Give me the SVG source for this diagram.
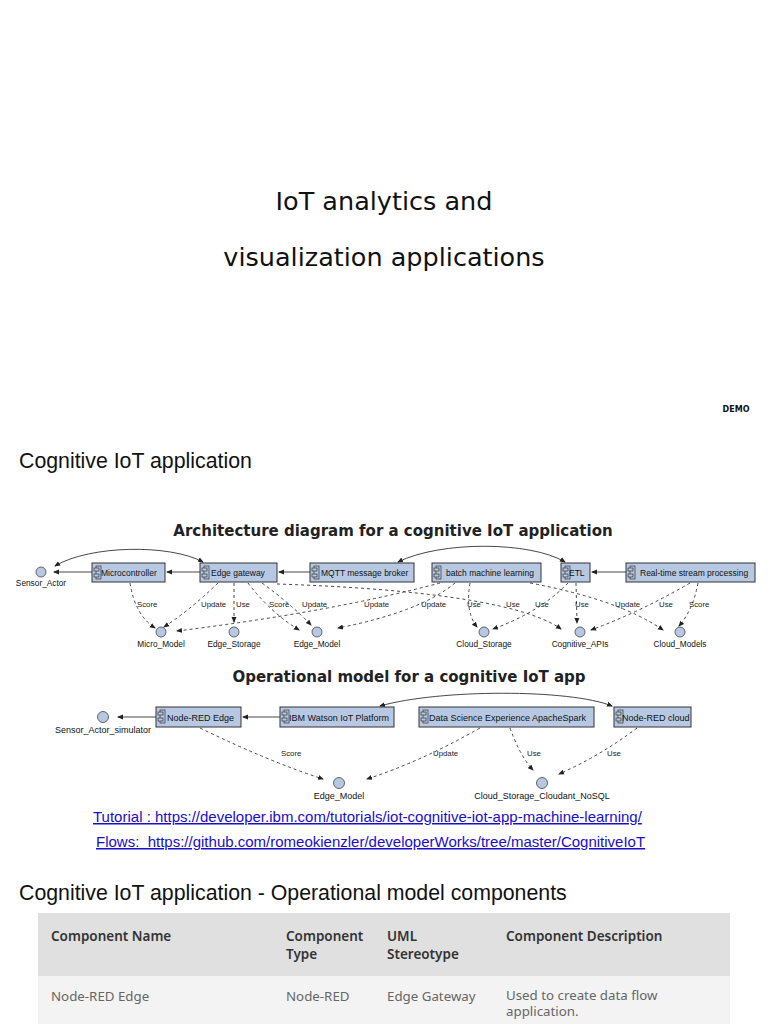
<svg xmlns="http://www.w3.org/2000/svg" width="768" height="1024" viewBox="0 0 768 1024">
<defs>
<marker id="ah" markerUnits="userSpaceOnUse" markerWidth="6" markerHeight="6" refX="5" refY="3" orient="auto-start-reverse"><path d="M0,0.5 L6,3 L0,5.5 z" fill="#222"/></marker>
<g id="icon"><rect x="4" y="3" width="5" height="13" fill="#b7c9e2" stroke="#333" stroke-width="0.7"/><rect x="2" y="5" width="5" height="3" fill="#b7c9e2" stroke="#333" stroke-width="0.7"/><rect x="2" y="11" width="5" height="3" fill="#b7c9e2" stroke="#333" stroke-width="0.7"/></g>
</defs>
<style>
.ttl{font-family:"DejaVu Sans",sans-serif;font-size:25.5px;fill:#111;text-anchor:middle}
.h2{font-family:"Liberation Sans",Arial,sans-serif;font-size:21.3px;fill:#111}
.dt{font-family:"DejaVu Sans",sans-serif;font-weight:bold;font-size:15px;fill:#222;text-anchor:middle}
.box{fill:#b7c9e2;stroke:#333;stroke-width:1}
.nt{font-family:"Liberation Sans",Arial,sans-serif;font-size:8.5px;fill:#111}
.ot{font-family:"Liberation Sans",Arial,sans-serif;font-size:9px;fill:#111}
.ci{fill:#b7c9e2;stroke:#444;stroke-width:0.8}
.cl{font-family:"Liberation Sans",Arial,sans-serif;font-size:8.3px;fill:#111;text-anchor:middle}
.cl2{font-family:"Liberation Sans",Arial,sans-serif;font-size:9px;fill:#111;text-anchor:middle}
.el{font-family:"Liberation Sans",Arial,sans-serif;font-size:7.8px;fill:#222}
.sl{fill:none;stroke:#333;stroke-width:0.9;marker-end:url(#ah)}
.sb{fill:none;stroke:#333;stroke-width:0.9;marker-end:url(#ah);marker-start:url(#ah)}
.dl{fill:none;stroke:#333;stroke-width:0.9;stroke-dasharray:3,3;marker-end:url(#ah)}
.lk{font-family:"Liberation Sans",Arial,sans-serif;font-size:15px;fill:#1a0dcc;text-decoration:underline}
.th{font-family:"Noto Sans",sans-serif;font-weight:600;font-size:13.5px;fill:#333}
.td{font-family:"Noto Sans",sans-serif;font-size:13.3px;fill:#666}
</style>
<rect width="768" height="1024" fill="#fff"/>
<text class="ttl" x="384" y="210">IoT analytics and</text>
<text class="ttl" x="384" y="266">visualization applications</text>
<text x="736" y="412" font-family="DejaVu Sans,sans-serif" font-size="8" font-weight="bold" fill="#111" text-anchor="middle">DEMO</text>
<text class="h2" x="19" y="468">Cognitive IoT application</text>
<text class="dt" x="393" y="536">Architecture diagram for a cognitive IoT application</text>

<g id="connectors-arch">
<path class="sl" d="M92,572 L54,572"/>
<path class="sl" d="M200,572 L167,572"/>
<path class="sl" d="M310,572 L279,572"/>
<path class="sl" d="M626,572 L592,572"/>
<path class="sb" d="M203,562 C170,544 90,545 55,566"/>
<path class="sb" d="M565,562 C530,541 440,541 398,562"/>
<path class="dl" d="M130,583 Q135,615 155,628"/>
<path class="dl" d="M218,583 Q190,610 164,627"/>
<path class="dl" d="M234,583 L234,622"/>
<path class="dl" d="M248,583 Q270,612 299,630"/>
<path class="dl" d="M262,583 Q292,605 311,625"/>
<path class="dl" d="M440,583 Q330,612 177,631"/>
<path class="dl" d="M455,583 Q420,612 338,628"/>
<path class="dl" d="M470,583 Q465,612 477,627"/>
<path class="dl" d="M568,583 Q540,612 493,629"/>
<path class="dl" d="M277,584 C400,588 520,600 561,629"/>
<path class="dl" d="M576,583 L577,623"/>
<path class="dl" d="M530,583 Q620,600 663,630"/>
<path class="dl" d="M690,583 Q640,612 591,630"/>
<path class="dl" d="M698,583 Q693,610 679,626"/>
<text class="el" x="137" y="607">Score</text>
<text class="el" x="201" y="607">Update</text>
<text class="el" x="236" y="607">Use</text>
<text class="el" x="269" y="607">Score</text>
<text class="el" x="302" y="607">Update</text>
<text class="el" x="364" y="607">Update</text>
<text class="el" x="421" y="607">Update</text>
<text class="el" x="467" y="607">Use</text>
<text class="el" x="506" y="607">Use</text>
<text class="el" x="535" y="607">Use</text>
<text class="el" x="575" y="607">Use</text>
<text class="el" x="615" y="607">Update</text>
<text class="el" x="659" y="607">Use</text>
<text class="el" x="689" y="607">Score</text>
</g>

<g id="sensor-actor"><circle class="ci" cx="41" cy="572" r="5"/><text class="cl" x="41" y="586">Sensor_Actor</text></g>
<g id="microcontroller"><rect class="box" x="92" y="563" width="73" height="19"/><use href="#icon" x="92" y="563"/><text class="nt" x="101" y="575.5">Microcontroller</text></g>
<g id="edge-gateway"><rect class="box" x="200" y="563" width="77" height="19"/><use href="#icon" x="200" y="563"/><text class="nt" x="211" y="575.5">Edge gateway</text></g>
<g id="mqtt"><rect class="box" x="310" y="563" width="104" height="19"/><use href="#icon" x="310" y="563"/><text class="nt" x="321" y="575.5">MQTT message broker</text></g>
<g id="batch-ml"><rect class="box" x="432" y="563" width="109" height="19"/><use href="#icon" x="432" y="563"/><text class="nt" x="446" y="575.5">batch machine learning</text></g>
<g id="etl"><rect class="box" x="561" y="563" width="29" height="19"/><use href="#icon" x="561" y="563"/><text class="nt" x="569" y="575.5">ETL</text></g>
<g id="realtime"><rect class="box" x="626" y="563" width="129" height="19"/><use href="#icon" x="626" y="563"/><text class="nt" x="640" y="575.5">Real-time stream processing</text></g>
<g id="micro-model"><circle class="ci" cx="161" cy="632" r="5"/><text class="cl" x="161" y="647">Micro_Model</text></g>
<g id="edge-storage"><circle class="ci" cx="234" cy="632" r="5"/><text class="cl" x="234" y="647">Edge_Storage</text></g>
<g id="edge-model"><circle class="ci" cx="317" cy="632" r="5"/><text class="cl" x="317" y="647">Edge_Model</text></g>
<g id="cloud-storage"><circle class="ci" cx="484" cy="632" r="5"/><text class="cl" x="484" y="647">Cloud_Storage</text></g>
<g id="cognitive-apis"><circle class="ci" cx="580" cy="632" r="5"/><text class="cl" x="580" y="647">Cognitive_APIs</text></g>
<g id="cloud-models"><circle class="ci" cx="680" cy="632" r="5"/><text class="cl" x="680" y="647">Cloud_Models</text></g>

<text class="dt" x="409" y="682">Operational model for a cognitive IoT app</text>

<g id="connectors-op">
<path class="sl" d="M156,717 L118,717"/>
<path class="sl" d="M280,717 L243,717"/>
<path class="sb" d="M380,706 C440,689 570,689 612,706"/>
<path class="dl" d="M200,728 Q270,762 323,779"/>
<path class="dl" d="M480,728 Q420,762 367,779"/>
<path class="dl" d="M510,728 Q520,756 533,770"/>
<path class="dl" d="M637,728 Q600,756 559,774"/>
<text class="el" x="281" y="756">Score</text>
<text class="el" x="433" y="756">Update</text>
<text class="el" x="527" y="756">Use</text>
<text class="el" x="607" y="756">Use</text>
</g>
<g id="sensor-sim"><circle class="ci" cx="103" cy="717" r="5.5"/><text class="cl2" x="103" y="733">Sensor_Actor_simulator</text></g>
<g id="nodered-edge"><rect class="box" x="156" y="707" width="85" height="20"/><use href="#icon" x="156" y="707"/><text class="ot" x="167" y="720.5">Node-RED Edge</text></g>
<g id="watson"><rect class="box" x="280" y="707" width="114" height="20"/><use href="#icon" x="280" y="707"/><text class="ot" x="289" y="720.5">IBM Watson IoT Platform</text></g>
<g id="dsx"><rect class="box" x="419" y="707" width="175" height="20"/><use href="#icon" x="419" y="707"/><text class="ot" x="429" y="720.5">Data Science Experience ApacheSpark</text></g>
<g id="nodered-cloud"><rect class="box" x="614" y="707" width="77" height="20"/><use href="#icon" x="614" y="707"/><text class="ot" x="622" y="720.5">Node-RED cloud</text></g>
<g id="edge-model-op"><circle class="ci" cx="339" cy="783" r="5.5"/><text class="cl2" x="339" y="799">Edge_Model</text></g>
<g id="cloud-storage-op"><circle class="ci" cx="542" cy="783" r="5.5"/><text class="cl2" x="542" y="799">Cloud_Storage_Cloudant_NoSQL</text></g>

<text class="lk" x="93" y="822">Tutorial : https://developer.ibm.com/tutorials/iot-cognitive-iot-app-machine-learning/</text>
<text class="lk" x="96" y="847" xml:space="preserve">Flows:  https://github.com/romeokienzler/developerWorks/tree/master/CognitiveIoT</text>

<text class="h2" x="19" y="900">Cognitive IoT application - Operational model components</text>

<g id="table">
<rect x="38" y="913" width="692" height="63" fill="#e0e0e0"/>
<rect x="38" y="976" width="692" height="48" fill="#f3f3f3"/>
<text class="th" x="51" y="941">Component Name</text>
<text class="th" x="286" y="941">Component</text>
<text class="th" x="286" y="959">Type</text>
<text class="th" x="387" y="941">UML</text>
<text class="th" x="387" y="959">Stereotype</text>
<text class="th" x="506" y="941">Component Description</text>
<text class="td" x="51" y="1001">Node-RED Edge</text>
<text class="td" x="286" y="1001">Node-RED</text>
<text class="td" x="387" y="1001">Edge Gateway</text>
<text class="td" x="506" y="1000">Used to create data flow</text>
<text class="td" x="506" y="1016">application.</text>
</g>
</svg>
